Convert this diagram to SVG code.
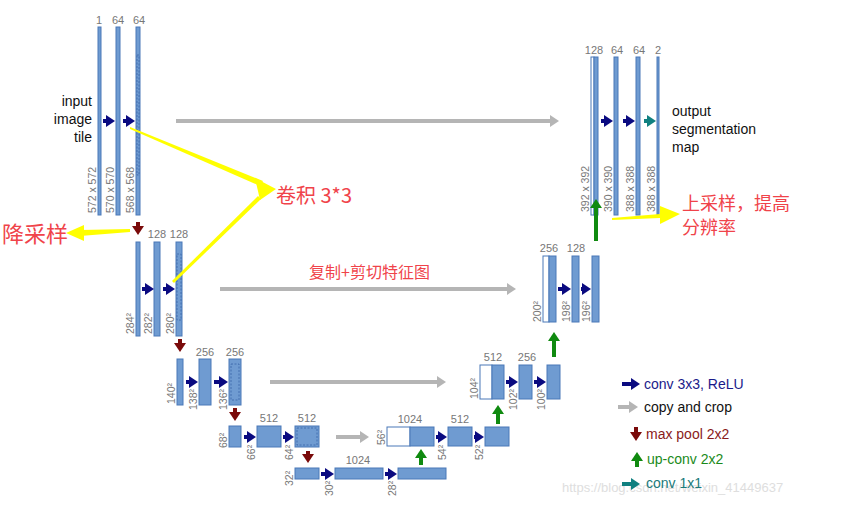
<svg xmlns="http://www.w3.org/2000/svg" width="842" height="505" viewBox="0 0 842 505">
<style>
.b{fill:#6f9bd1;stroke:#4a78b8;stroke-width:1}
.w{fill:#fff;stroke:#4a78b8;stroke-width:1}
.d{fill:none;stroke:#3b66a8;stroke-width:0.8;stroke-dasharray:2,1.5}
.n{font-family:"Liberation Sans",Arial,sans-serif;font-size:11px;fill:#777}
.r{font-family:"Liberation Sans",Arial,sans-serif;font-size:10.5px;fill:#777}
.t{font-family:"Liberation Sans",Arial,sans-serif;font-size:14px;fill:#111}
.cn{font-family:"Noto Sans CJK SC",sans-serif;fill:#f0434a}
.cb{stroke:#0a0a80;stroke-width:4}
.cg{stroke:#b5b5b5;stroke-width:4}
.cr{stroke:#7a0a0a;stroke-width:4}
.cu{stroke:#108a10;stroke-width:4}
.ct{stroke:#108080;stroke-width:4}
.y{fill:#ffff00}
</style>
<defs>
<marker id="mb" markerUnits="userSpaceOnUse" markerWidth="10" markerHeight="12" refX="1" refY="6" orient="auto"><path d="M0,0L9,6L0,12z" fill="#0a0a80"/></marker>
<marker id="mg" markerUnits="userSpaceOnUse" markerWidth="10" markerHeight="12" refX="1" refY="6" orient="auto"><path d="M0,0L9,6L0,12z" fill="#b5b5b5"/></marker>
<marker id="mr" markerUnits="userSpaceOnUse" markerWidth="10" markerHeight="12" refX="1" refY="6" orient="auto"><path d="M0,0L9,6L0,12z" fill="#7a0a0a"/></marker>
<marker id="mu" markerUnits="userSpaceOnUse" markerWidth="10" markerHeight="12" refX="1" refY="6" orient="auto"><path d="M0,0L9,6L0,12z" fill="#108a10"/></marker>
<marker id="mt" markerUnits="userSpaceOnUse" markerWidth="10" markerHeight="12" refX="1" refY="6" orient="auto"><path d="M0,0L9,6L0,12z" fill="#108080"/></marker>
</defs>

<text x="562" y="492" fill="#dedede" font-family="Liberation Sans, Arial, sans-serif" font-size="13">https://blog.csdn.net/weixin_41449637</text>

<g id="level1-left">
<rect class="b" x="98" y="27" width="3" height="188"/>
<rect class="b" x="116" y="27" width="4" height="188"/>
<rect class="b" x="136" y="27" width="4" height="188"/>
<rect class="d" x="137" y="55" width="2" height="120"/>
<text class="n" x="99" y="24" text-anchor="middle">1</text>
<text class="n" x="118" y="24" text-anchor="middle">64</text>
<text class="n" x="139" y="24" text-anchor="middle">64</text>
<text class="r" transform="translate(96,213) rotate(-90)">572 x 572</text>
<text class="r" transform="translate(114,213) rotate(-90)">570 x 570</text>
<text class="r" transform="translate(134,213) rotate(-90)">568 x 568</text>
<text class="t" x="92" y="106" text-anchor="end">input</text>
<text class="t" x="92" y="124" text-anchor="end">image</text>
<text class="t" x="92" y="142" text-anchor="end">tile</text>
</g>
<g id="level2-left">
<rect class="b" x="136" y="242" width="4" height="94"/>
<rect class="b" x="154" y="242" width="6" height="94"/>
<rect class="b" x="176" y="242" width="6" height="94"/>
<rect class="d" x="177" y="254" width="4" height="66"/>
<text class="n" x="157" y="238" text-anchor="middle">128</text>
<text class="n" x="179" y="238" text-anchor="middle">128</text>
<text class="r" transform="translate(134,334) rotate(-90)">284²</text>
<text class="r" transform="translate(152,334) rotate(-90)">282²</text>
<text class="r" transform="translate(174,334) rotate(-90)">280²</text>
</g>
<g id="level3-left">
<rect class="b" x="177" y="359" width="6" height="46"/>
<rect class="b" x="199" y="359" width="12" height="46"/>
<rect class="b" x="229" y="359" width="12" height="46"/>
<rect class="d" x="231" y="364" width="8" height="36"/>
<text class="n" x="205" y="356" text-anchor="middle">256</text>
<text class="n" x="235" y="356" text-anchor="middle">256</text>
<text class="r" transform="translate(175,404) rotate(-90)">140²</text>
<text class="r" transform="translate(197,410) rotate(-90)">138²</text>
<text class="r" transform="translate(227,410) rotate(-90)">136²</text>
</g>
<g id="level4-left">
<rect class="b" x="229" y="426" width="12" height="21"/>
<rect class="b" x="257" y="426" width="24" height="21"/>
<rect class="b" x="295" y="426" width="24" height="21"/>
<rect class="d" x="297" y="428" width="20" height="17"/>
<text class="n" x="269" y="422" text-anchor="middle">512</text>
<text class="n" x="307" y="422" text-anchor="middle">512</text>
<text class="r" transform="translate(227,448) rotate(-90)">68²</text>
<text class="r" transform="translate(255,460) rotate(-90)">66²</text>
<text class="r" transform="translate(293,460) rotate(-90)">64²</text>
</g>
<g id="level5">
<rect class="b" x="295" y="468" width="24" height="11"/>
<rect class="b" x="335" y="468" width="48" height="11"/>
<rect class="b" x="398" y="468" width="48" height="11"/>
<text class="n" x="358" y="464" text-anchor="middle">1024</text>
<text class="r" transform="translate(293,486) rotate(-90)">32²</text>
<text class="r" transform="translate(333,496) rotate(-90)">30²</text>
<text class="r" transform="translate(396,496) rotate(-90)">28²</text>
</g>
<g id="level4-right">
<rect class="w" x="387" y="427" width="23" height="19"/>
<rect class="b" x="410" y="427" width="24" height="19"/>
<rect class="b" x="448" y="427" width="24" height="19"/>
<rect class="b" x="485" y="427" width="24" height="19"/>
<text class="n" x="410" y="423" text-anchor="middle">1024</text>
<text class="n" x="460" y="423" text-anchor="middle">512</text>
<text class="r" transform="translate(385,445) rotate(-90)">56²</text>
<text class="r" transform="translate(446,460) rotate(-90)">54²</text>
<text class="r" transform="translate(483,460) rotate(-90)">52²</text>
</g>
<g id="level3-right">
<rect class="w" x="480" y="365" width="12" height="34"/>
<rect class="b" x="492" y="365" width="12" height="34"/>
<rect class="b" x="519" y="365" width="13" height="34"/>
<rect class="b" x="547" y="365" width="13" height="34"/>
<text class="n" x="493" y="361" text-anchor="middle">512</text>
<text class="n" x="527" y="361" text-anchor="middle">256</text>
<text class="r" transform="translate(478,399) rotate(-90)">104²</text>
<text class="r" transform="translate(517,410) rotate(-90)">102²</text>
<text class="r" transform="translate(545,410) rotate(-90)">100²</text>
</g>
<g id="level2-right">
<rect class="w" x="543" y="256" width="6" height="66"/>
<rect class="b" x="549" y="256" width="7" height="66"/>
<rect class="b" x="572" y="256" width="7" height="66"/>
<rect class="b" x="592" y="256" width="7" height="66"/>
<text class="n" x="549" y="252" text-anchor="middle">256</text>
<text class="n" x="576" y="252" text-anchor="middle">128</text>
<text class="r" transform="translate(541,322) rotate(-90)">200²</text>
<text class="r" transform="translate(570,322) rotate(-90)">198²</text>
<text class="r" transform="translate(590,322) rotate(-90)">196²</text>
</g>
<g id="level1-right">
<rect class="w" x="591" y="57" width="3" height="158"/>
<rect class="b" x="594" y="57" width="4" height="158"/>
<rect class="b" x="614" y="57" width="4" height="158"/>
<rect class="b" x="636" y="57" width="4" height="158"/>
<rect class="b" x="657" y="57" width="2" height="158"/>
<text class="n" x="594" y="54" text-anchor="middle">128</text>
<text class="n" x="617" y="54" text-anchor="middle">64</text>
<text class="n" x="639" y="54" text-anchor="middle">64</text>
<text class="n" x="658" y="54" text-anchor="middle">2</text>
<text class="r" transform="translate(589,212) rotate(-90)">392 x 392</text>
<text class="r" transform="translate(612,212) rotate(-90)">390 x 390</text>
<text class="r" transform="translate(634,212) rotate(-90)">388 x 388</text>
<text class="r" transform="translate(655,212) rotate(-90)">388 x 388</text>
<text class="t" x="672" y="116">output</text>
<text class="t" x="672" y="134">segmentation</text>
<text class="t" x="672" y="152">map</text>
</g>

<g id="connectors">
<line class="cb" x1="103" y1="121" x2="107" y2="121" marker-end="url(#mb)"/>
<line class="cb" x1="123" y1="121" x2="127" y2="121" marker-end="url(#mb)"/>
<line class="cg" x1="176" y1="121" x2="551" y2="121" marker-end="url(#mg)"/>
<line class="cr" x1="138" y1="222" x2="138" y2="227" marker-end="url(#mr)"/>
<line class="cb" x1="142" y1="289" x2="146" y2="289" marker-end="url(#mb)"/>
<line class="cb" x1="163" y1="289" x2="167" y2="289" marker-end="url(#mb)"/>
<line class="cg" x1="220" y1="289" x2="508" y2="289" marker-end="url(#mg)"/>
<line class="cr" x1="180" y1="339" x2="180" y2="344" marker-end="url(#mr)"/>
<line class="cb" x1="186" y1="382" x2="190" y2="382" marker-end="url(#mb)"/>
<line class="cb" x1="214" y1="382" x2="220" y2="382" marker-end="url(#mb)"/>
<line class="cg" x1="270" y1="382" x2="438" y2="382" marker-end="url(#mg)"/>
<line class="cr" x1="235" y1="408" x2="235" y2="413" marker-end="url(#mr)"/>
<line class="cb" x1="244" y1="437" x2="248" y2="437" marker-end="url(#mb)"/>
<line class="cb" x1="283" y1="437" x2="286" y2="437" marker-end="url(#mb)"/>
<line class="cg" x1="336" y1="437" x2="361" y2="437" marker-end="url(#mg)"/>
<line class="cr" x1="308" y1="451" x2="308" y2="455" marker-end="url(#mr)"/>
<line class="cb" x1="321" y1="474" x2="326" y2="474" marker-end="url(#mb)"/>
<line class="cb" x1="385" y1="474" x2="389" y2="474" marker-end="url(#mb)"/>
<line class="cu" x1="421" y1="465" x2="421" y2="457" marker-end="url(#mu)"/>
<line class="cb" x1="436" y1="437" x2="439" y2="437" marker-end="url(#mb)"/>
<line class="cb" x1="474" y1="437" x2="476" y2="437" marker-end="url(#mb)"/>
<line class="cu" x1="498" y1="424" x2="498" y2="413" marker-end="url(#mu)"/>
<line class="cb" x1="506" y1="382" x2="510" y2="382" marker-end="url(#mb)"/>
<line class="cb" x1="534" y1="382" x2="538" y2="382" marker-end="url(#mb)"/>
<line class="cu" x1="554" y1="357" x2="554" y2="340" marker-end="url(#mu)"/>
<line class="cb" x1="558" y1="289" x2="563" y2="289" marker-end="url(#mb)"/>
<line class="cb" x1="581" y1="289" x2="583" y2="289" marker-end="url(#mb)"/>
<line class="cu" x1="596" y1="241" x2="596" y2="207" marker-end="url(#mu)"/>
<line class="cb" x1="601" y1="121" x2="605" y2="121" marker-end="url(#mb)"/>
<line class="cb" x1="623" y1="121" x2="627" y2="121" marker-end="url(#mb)"/>
<line class="ct" x1="644" y1="121" x2="648" y2="121" marker-end="url(#mt)"/>
</g>

<g id="annotations">
<polygon class="y" points="130,127 263,181 260,186 130,129"/>
<polygon class="y" points="172,281 258,196 261,199 174,283"/>
<polygon class="y" points="276,189 255,178 260,200"/>
<text class="cn" x="276" y="203" font-size="20">卷积  3*3</text>
<polygon class="y" points="130,229 80,230 80,236 130,232"/>
<polygon class="y" points="66,233 84,225 84,241"/>
<text class="cn" x="2" y="242" font-size="22">降采样</text>
<text class="cn" x="309" y="278" font-size="16">复制+剪切特征图</text>
<polygon class="y" points="612,218 660,214 660,218 612,220"/>
<polygon class="y" points="680,214 660,206 660,224"/>
<text class="cn" x="682" y="210" font-size="18">上采样，提高</text>
<text class="cn" x="682" y="234" font-size="18">分辨率</text>
</g>

<g id="legend" font-family="Liberation Sans, Arial, sans-serif" font-size="14">
<line class="cb" x1="622" y1="384" x2="632" y2="384" marker-end="url(#mb)"/>
<text x="644" y="389" fill="#1a1a8a">conv 3x3, ReLU</text>
<line class="cg" x1="618" y1="407" x2="630" y2="407" marker-end="url(#mg)"/>
<text x="644" y="412" fill="#111">copy and crop</text>
<line class="cr" x1="636" y1="427" x2="636" y2="433" marker-end="url(#mr)"/>
<text x="646" y="439" fill="#8a1a1a">max pool 2x2</text>
<line class="cu" x1="637" y1="467" x2="637" y2="460" marker-end="url(#mu)"/>
<text x="647" y="464" fill="#1a8a1a">up-conv 2x2</text>
<line class="ct" x1="622" y1="484" x2="632" y2="484" marker-end="url(#mt)"/>
<text x="646" y="488" fill="#1a7a7a">conv 1x1</text>
</g>
</svg>
